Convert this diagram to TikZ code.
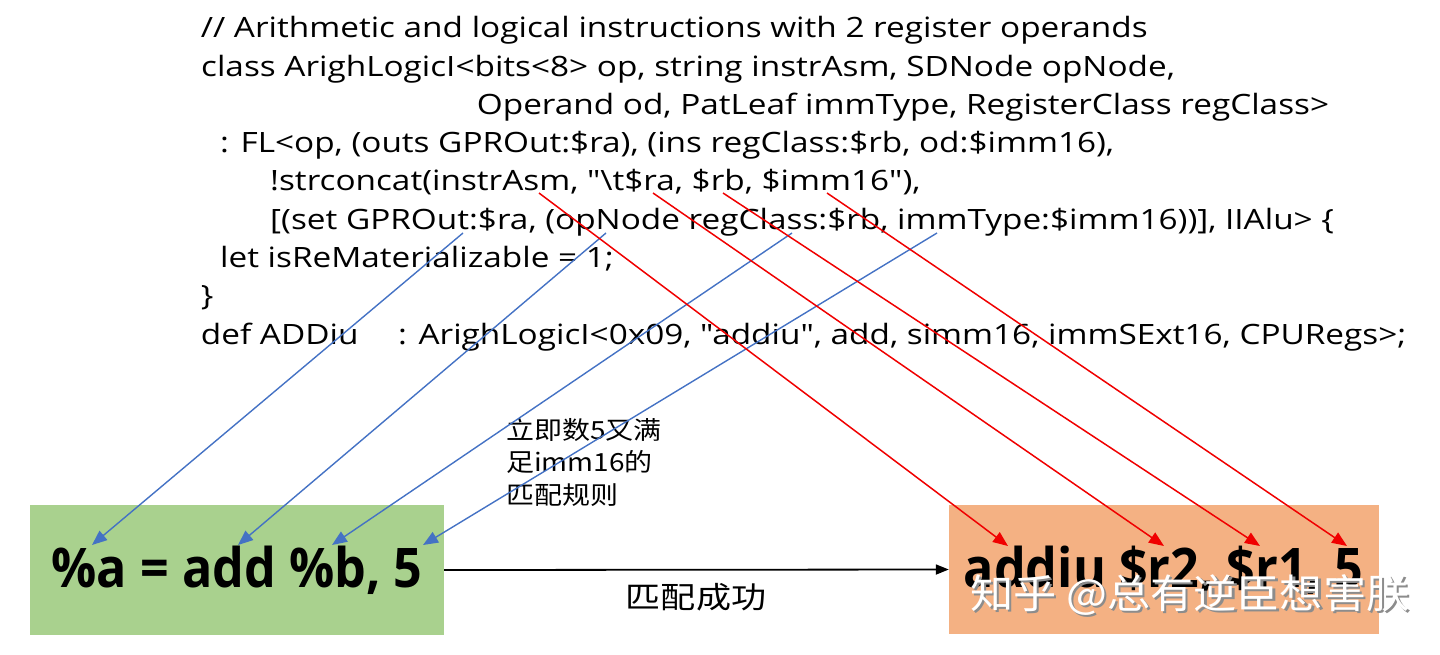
\documentclass[tikz,border=0pt]{standalone}
\usepackage{fontspec}
\usetikzlibrary{arrows.meta}
\setmainfont{Open Sans}[FakeStretch=1.19,Ligatures=TeXOff]
\newfontfamily\boldfont{Open Sans}[FakeStretch=0.92,Ligatures=TeXOff]
\newfontfamily\cjk{Noto Sans CJK SC}[FakeStretch=1.12]
\newfontfamily\cjkwide{Noto Sans CJK SC}[FakeStretch=1.17]
\newfontfamily\wmfont{Noto Sans CJK SC}[FakeStretch=1.08]
\definecolor{boxgreen}{HTML}{A9D18E}
\definecolor{boxorange}{HTML}{F4B183}
\definecolor{lineblue}{HTML}{4472C4}
\definecolor{linered}{HTML}{F00000}
\begin{document}
\begin{tikzpicture}[x=1pt,y=-1pt,
  code/.style={anchor=base west,inner sep=0pt,font=\fontsize{28}{34}\selectfont},
  boxtxt/.style={anchor=base,inner sep=0pt,font=\boldfont\bfseries\fontsize{54.6}{60}\selectfont},
  greenbox/.style={fill=boxgreen,draw=none,minimum width=414pt,minimum height=130pt,inner sep=0pt},
  orangebox/.style={fill=boxorange,draw=none,minimum width=430pt,minimum height=129pt,inner sep=0pt},
  bluearrow/.style={draw=lineblue,line width=1.4pt,-{Triangle[length=15pt,width=12pt]}},
  redarrow/.style={draw=linered,line width=1.5pt,-{Triangle[length=15pt,width=12pt]}},
  blackarrow/.style={draw=black,line width=1.8pt,-{Triangle[length=13pt,width=10pt]}},
  note/.style={anchor=base west,inner sep=0pt,font=\cjk\fontsize{25}{30}\selectfont},
]
\useasboundingbox (0,0) rectangle (1440,654);
% code lines
\node[code] (l1) at (200.7,37.5) {// Arithmetic and logical instructions with 2 register operands};
\node[code] (l2) at (201,76) {class ArighLogicI<bits<8> op, string instrAsm, SDNode opNode,};
\node[code] (l3) at (476.7,114.5) {Operand od, PatLeaf immType, RegisterClass regClass>};
\node[code] (l4) at (220,152.5) {: FL<op, (outs GPROut:\$ra), (ins regClass:\$rb, od:\$imm16),};
\node[code] (l5) at (270,190.5) {!strconcat(instrAsm, "\textbackslash t\$ra, \$rb, \$imm16"),};
\node[code] (l6) at (270,229) {[(set GPROut:\$ra, (opNode regClass:\$rb, immType:\$imm16))], IIAlu> \{};
\node[code] (l7) at (220,267) {let isReMaterializable = 1;};
\node[code] (l8) at (200.7,305.5) {\}};
\node[code] (l9a) at (200.7,344) {def ADDiu};
\node[code] (l9b) at (398,344) {: ArighLogicI<0x09, "addiu", add, simm16, immSExt16, CPURegs>;};
% boxes
\node[greenbox] (src) at (237,570) {};
\node[orangebox] (dst) at (1164,569.5) {};
\node[boxtxt] (srctxt) at (237,587) {\%a = add \%b, 5};
\node[boxtxt] (dsttxt) at (1163.5,587) {addiu \$r2, \$r1, 5};
% notes
\node[note] (n1) at (506,439) {立即数5又满};
\node[note] (n2) at (506,471.5) {足imm16的};
\node[note] (n3) at (506,504.5) {匹配规则};
\node[anchor=base,inner sep=0pt,font=\cjkwide\fontsize{30}{36}\selectfont] (ok) at (696,608) {匹配成功};
% connector coordinates
\coordinate (b1s) at (463,233);
\coordinate (b2s) at (606,233);
\coordinate (b3s) at (792,233);
\coordinate (b4s) at (937,233);
\coordinate (b1e) at (92,545);
\coordinate (b2e) at (238,545);
\coordinate (b3e) at (332,545);
\coordinate (b4e) at (423,545);
\coordinate (r1s) at (539,193);
\coordinate (r2s) at (653,193);
\coordinate (r3s) at (723,193);
\coordinate (r4s) at (827,193);
\coordinate (r1e) at (1008,546);
\coordinate (r2e) at (1164,546);
\coordinate (r3e) at (1260,546);
\coordinate (r4e) at (1347,546);
\draw[bluearrow] (b1s) -- (b1e);
\draw[bluearrow] (b2s) -- (b2e);
\draw[bluearrow] (b3s) -- (b3e);
\draw[bluearrow] (b4s) -- (b4e);
\draw[redarrow] (r1s) -- (r1e);
\draw[redarrow] (r2s) -- (r2e);
\draw[redarrow] (r3s) -- (r3e);
\draw[redarrow] (r4s) -- (r4e);
\draw[blackarrow] (src.east) -- (dst.west);
% watermark
\node[anchor=base west,inner sep=0pt,text=black!45,font=\wmfont\fontsize{40}{44}\selectfont] (wmshadow) at (972.5,610.5) {知乎 @总有逆臣想害朕};
\node[anchor=base west,inner sep=0pt,text=white,font=\wmfont\fontsize{40}{44}\selectfont] (wm) at (970,608) {知乎 @总有逆臣想害朕};
\end{tikzpicture}
\end{document}
